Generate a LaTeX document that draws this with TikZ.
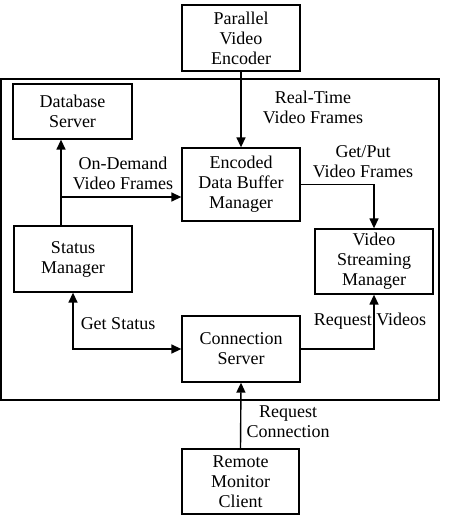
\documentclass[tikz,border=0pt]{standalone}
\usepackage{fontspec}
\setmainfont{Liberation Serif}
\usetikzlibrary{arrows.meta}
\begin{document}
\begin{tikzpicture}[x=1pt,y=-1pt,
  box/.style={draw,line width=1.3pt,align=center,inner sep=0pt,
    font=\fontsize{18}{20}\selectfont},
  lbl/.style={align=center,inner sep=0pt,font=\fontsize{18}{20}\selectfont},
  arr/.style={line width=1.4pt,-{Triangle[length=10pt,width=9pt]}},
  arrb/.style={line width=1.4pt,{Triangle[length=10pt,width=9pt]}-{Triangle[length=10pt,width=9pt]}}]
\useasboundingbox (0,0) rectangle (474,518);
\draw[line width=1.5pt] (1,79) rectangle (439,400);
\node[box,minimum width=118pt,minimum height=66pt] (pve) at (241,38) {Parallel\\Video\\Encoder};
\node[box,minimum width=119pt,minimum height=55pt] (db) at (72.5,111.5) {Database\\Server};
\node[box,minimum width=118pt,minimum height=73pt] (edb) at (241,184.5) {Encoded\\Data Buffer\\Manager};
\node[box,minimum width=118pt,minimum height=66pt] (sm) at (73,259) {Status\\Manager};
\node[box,minimum width=118pt,minimum height=65pt] (vsm) at (374,261.5) {Video\\Streaming\\Manager};
\node[box,minimum width=118pt,minimum height=66pt] (cs) at (241,349) {Connection\\Server};
\node[box,minimum width=117pt,minimum height=65pt] (rmc) at (240.5,481.5) {Remote\\Monitor\\Client};
\coordinate (smtop) at ([xshift=-12pt]sm.north);
\coordinate (br) at (61,197);
\draw[arr] (pve) -- (edb);
\draw[arr] (smtop) -- (smtop |- db.south);
\draw[arr] (br) -- (br -| edb.west);
\draw[arr] (edb.east) -| (vsm.north);
\draw[arrb] (sm.south) |- (cs.west);
\draw[arr] (cs.east) -| (vsm.south);
\draw[arr] (rmc.north) -- (cs.south);
\node[lbl] (l1) at (313,107) {Real-Time\\Video Frames};
\node[lbl] (l2) at (123,173) {On-Demand\\Video Frames};
\node[lbl] (l3) at (363,162) {Get/Put\\Video Frames};
\node[lbl] (l4) at (118,324) {Get Status};
\node[lbl] (l5) at (370,321) {Request Videos};
\node[lbl] (l6) at (288,422) {Request\\Connection};
\end{tikzpicture}
\end{document}
